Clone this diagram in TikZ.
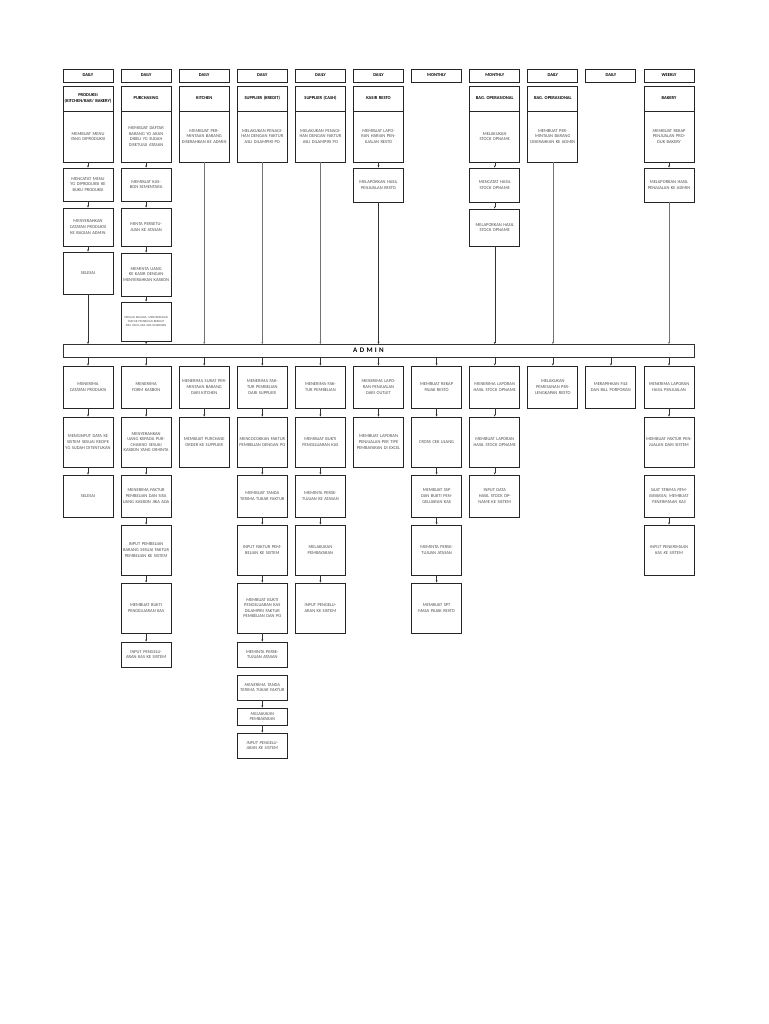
\documentclass[tikz,border=0pt]{standalone}
\usepackage{fontspec}
\setmainfont{Carlito}
\usetikzlibrary{arrows.meta}
\begin{document}
\begin{tikzpicture}[x=1pt,y=-1pt,
 bx/.style={draw=black!85,line width=0.9pt,minimum width=50pt,text width=47pt,align=center,inner sep=0.5pt,font=\fontsize{4.5}{5.6}\selectfont,text=black!70},
 hb/.style={bx,font=\fontsize{4.5}{5.6}\selectfont\bfseries,text=black},
 ar/.style={-{Stealth[length=2.2pt,width=2pt]},line width=0.35pt,black!80},
 ln/.style={-{Stealth[length=2.2pt,width=2pt]},line width=0.35pt,black!55}]
\useasboundingbox (0,0) rectangle (768,1024);
\newcommand\bx[6][bx]{\node[#1,minimum height={(#5-#4)*1pt}] (#2) at ({88+58.1*#3},{(#4+#5)/2}) {#6};}
% headers
\foreach \i/\t in {0/DAILY,1/DAILY,2/DAILY,3/DAILY,4/DAILY,5/DAILY,6/MONTHLY,7/MONTHLY,8/DAILY,9/DAILY,10/WEEKLY}
 \node[hb,minimum height=13pt] (h\i) at ({88+58.1*\i},75.5) {\t};
% titles
\bx[hb]{t0}{0}{86}{111}{PRODUKSI (KITCHEN/BAR/ BAKERY)}
\bx[hb]{t1}{1}{86}{111}{PURCHASING}
\bx[hb]{t2}{2}{86}{111}{KITCHEN}
\bx[hb]{t3}{3}{86}{111}{SUPPLIER (KREDIT)}
\bx[hb]{t4}{4}{86}{111}{SUPPLIER (CASH)}
\bx[hb]{t5}{5}{86}{111}{KASIR RESTO}
\bx[hb]{t7}{7}{86}{111}{BAG. OPERASIONAL}
\bx[hb]{t8}{8}{86}{111}{BAG. OPERASIONAL}
\bx[hb]{t10}{10}{86}{111}{BAKERY}
% bodies
\bx{b0}{0}{111}{162}{MEMBUAT MENU YANG DIPRODUKSI}
\bx{b1}{1}{111}{162}{MEMBUAT DAFTAR BARANG YG AKAN DIBELI YG SUDAH DISETUJUI ATASAN}
\bx{b2}{2}{111}{162}{MEMBUAT PERMINTAAN BARANG DISERAHKAN KE ADMIN}
\bx{b3}{3}{111}{162}{MELAKUKAN PENAGIHAN DENGAN FAKTUR ASLI DILAMPIRI PO}
\bx{b4}{4}{111}{162}{MELAKUKAN PENAGIHAN DENGAN FAKTUR ASLI DILAMPIRI PO}
\bx{b5}{5}{111}{162}{MEMBUAT LAPORAN HARIAN PENJUALAN RESTO}
\bx{b7}{7}{111}{162}{MELAKUKAN STOCK OPNAME}
\bx{b8}{8}{111}{162}{MEMBUAT PERMINTAAN BARANG DISERAHKAN KE ADMIN}
\bx{b10}{10}{111}{162}{MEMBUAT REKAP PENJUALAN PRODUK BAKERY}
% upper chains
\bx{p01}{0}{168}{201}{MENCATAT MENU YG DIPRODUKSI KE BUKU PRODUKSI}
\bx{p02}{0}{208}{246}{MENYERAHKAN CATATAN PRODUKSI KE BAGIAN ADMIN}
\bx{p03}{0}{252}{294}{SELESAI}
\bx{p11}{1}{168}{201}{MEMBUAT KASBON SEMENTARA}
\bx{p12}{1}{208}{246}{MINTA PERSETUJUAN KE ATASAN}
\bx{p13}{1}{253}{296}{MEMINTA UANG KE KASIR DENGAN MENYERAHKAN KASBON}
\node[bx,minimum height=39pt,font=\fontsize{3}{3.6}\selectfont] (p14) at ({88+58.1},321.5) {SETELAH BELANJA, MENYERAHKAN FAKTUR PEMBELIAN BERIKUT SISA UANG JIKA ADA KELEBIHAN};
\bx{p51}{5}{168}{202}{MELAPORKAN HASIL PENJUALAN RESTO}
\bx{p71}{7}{168}{202}{MENCATAT HASIL STOCK OPNAME}
\bx{p72}{7}{209}{246}{MELAPORKAN HASIL STOCK OPNAME}
\bx{p101}{10}{168}{202}{MELAPORKAN HASIL PENJUALAN KE ADMIN}
% admin bar
\node[draw=black!80,line width=0.9pt,minimum width=631pt,minimum height=13pt,inner sep=0pt,font=\fontsize{7}{8}\selectfont\bfseries] (admin) at (378.5,350.5) {\hspace*{-20pt}A\,\,D\,\,M\,\,I\,\,N};
\path (admin.north west) ++(0,0) coordinate (anw);
\foreach \i in {0,...,10}{
 \coordinate (top\i) at ({88+58.1*\i},344);
 \coordinate (bot\i) at ({88+58.1*\i},357);}
\draw[ar] (b0)--(p01); \draw[ar] (p01)--(p02); \draw[ar] (p02)--(p03); \draw[ar] (p03)--(top0);
\draw[ar] (b1)--(p11); \draw[ar] (p11)--(p12); \draw[ar] (p12)--(p13); \draw[ar] (p13)--(p14); \draw[ar] (p14)--(top1);
\draw[ln] (b2)--(top2); \draw[ln] (b3)--(top3); \draw[ln] (b4)--(top4);
\draw[ar] (b5)--(p51); \draw[ar] (p51)--(top5);
\draw[ar] (b7)--(p71); \draw[ar] (p71)--(p72); \draw[ar] (p72)--(top7);
\draw[ln] (b8)--(top8);
\draw[ar] (b10)--(p101); \draw[ln] (p101)--(top10);
% admin rows
\bx{a0}{0}{366}{408}{MENERIMA CATATAN PRODUKSI}
\bx{a1}{1}{366}{408}{MENERIMA FORM KASBON}
\bx{a2}{2}{366}{408}{MENERIMA SURAT PERMINTAAN BARANG DARI KITCHEN}
\bx{a3}{3}{366}{408}{MENERIMA FAKTUR PEMBELIAN DARI SUPPLIER}
\bx{a4}{4}{366}{408}{MENERIMA FAKTUR PEMBELIAN}
\bx{a5}{5}{366}{408}{MENERIMA LAPORAN PENJUALAN DARI OUTLET}
\bx{a6}{6}{366}{408}{MEMBUAT REKAP PAJAK RESTO}
\bx{a7}{7}{366}{408}{MENERIMA LAPORAN HASIL STOCK OPNAME}
\bx{a8}{8}{366}{408}{MELAKUKAN PEMESANAN PERLENGKAPAN RESTO}
\bx{a9}{9}{366}{408}{MERAPIHKAN FILE DAN BILL PORPORASI}
\bx{a10}{10}{366}{408}{MENERIMA LAPORAN HASIL PENJUALAN}
\foreach \i in {0,...,10} \draw[ar] (bot\i)--(a\i);
% row B
\bx{c0}{0}{417}{467}{MENGINPUT DATA KE SISTEM SESUAI RECIPE YG SUDAH DITENTUKAN}
\bx{c1}{1}{417}{467}{MENYERAHKAN UANG KEPADA PURCHASING SESUAI KASBON YANG DIMINTA}
\bx{c2}{2}{417}{467}{MEMBUAT PURCHASE ORDER KE SUPPLIER}
\bx{c3}{3}{417}{467}{MENCOCOKKAN FAKTUR PEMBELIAN DENGAN PO}
\bx{c4}{4}{417}{467}{MEMBUAT BUKTI PENGELUARAN KAS}
\bx{c5}{5}{417}{467}{MEMBUAT LAPORAN PENJUALAN PER TIPE PEMBAYARAN DI EXCEL}
\bx{c6}{6}{417}{467}{CROSS CEK ULANG}
\bx{c7}{7}{417}{467}{MEMBUAT LAPORAN HASIL STOCK OPNAME}
\bx{c10}{10}{417}{467}{MEMBUAT FAKTUR PENJUALAN DARI SISTEM}
\foreach \i in {0,1,2,3,4,5,6,7,10} \draw[ar] (a\i)--(c\i);
% row C
\bx{d0}{0}{475}{517}{SELESAI}
\bx{d1}{1}{475}{517}{MENERIMA FAKTUR PEMBELIAN DAN SISA UANG KASBON JIKA ADA}
\bx{d3}{3}{475}{517}{MEMBUAT TANDA TERIMA TUKAR FAKTUR}
\bx{d4}{4}{475}{517}{MEMINTA PERSETUJUAN KE ATASAN}
\bx{d6}{6}{475}{517}{MEMBUAT SSP DAN BUKTI PENGELUARAN KAS}
\bx{d7}{7}{475}{517}{INPUT DATA HASIL STOCK OPNAME KE SISTEM}
\bx{d10}{10}{475}{517}{\itshape SAAT TERIMA PEMBAYARAN, MEMBUAT PENERIMAAN KAS}
\foreach \i in {0,1,3,4,6,7} \draw[ar] (c\i)--(d\i);
% row D
\bx{e1}{1}{525}{575}{INPUT PEMBELIAN BARANG SESUAI FAKTUR PEMBELIAN KE SISTEM}
\bx{e3}{3}{525}{575}{INPUT FAKTUR PEMBELIAN KE SISTEM}
\bx{e4}{4}{525}{575}{MELAKUKAN PEMBAYARAN}
\bx{e6}{6}{525}{575}{MEMINTA PERSETUJUAN ATASAN}
\bx{e10}{10}{525}{575}{\itshape INPUT PENERIMAAN KAS KE SISTEM}
\foreach \i in {1,3,4,6,10} \draw[ar] (d\i)--(e\i);
% row E
\bx{f1}{1}{583}{633}{MEMBUAT BUKTI PENGELUARAN KAS}
\bx{f3}{3}{583}{633}{MEMBUAT BUKTI PENGELUARAN KAS DILAMPIRI FAKTUR PEMBELIAN DAN PO}
\bx{f4}{4}{583}{633}{INPUT PENGELUARAN KE SISTEM}
\bx{f6}{6}{583}{633}{MEMBUAT SPT MASA PAJAK RESTO}
\foreach \i in {1,3,4,6} \draw[ar] (e\i)--(f\i);
% row F+
\bx{g1}{1}{642}{667}{INPUT PENGELUARAN KAS KE SISTEM}
\bx{g3}{3}{642}{667}{MEMINTA PERSETUJUAN ATASAN}
\draw[ar] (f1)--(g1); \draw[ar] (f3)--(g3);
\bx{h3}{3}{675}{700}{\itshape MENERIMA TANDA TERIMA TUKAR FAKTUR}
\bx{i3}{3}{708}{725}{\itshape MELAKUKAN PEMBAYARAN}
\bx{j3}{3}{733}{758}{\itshape INPUT PENGELUARAN KE SISTEM}
\draw[ar] (h3)--(i3); \draw[ar] (i3)--(j3);
\end{tikzpicture}
\end{document}
